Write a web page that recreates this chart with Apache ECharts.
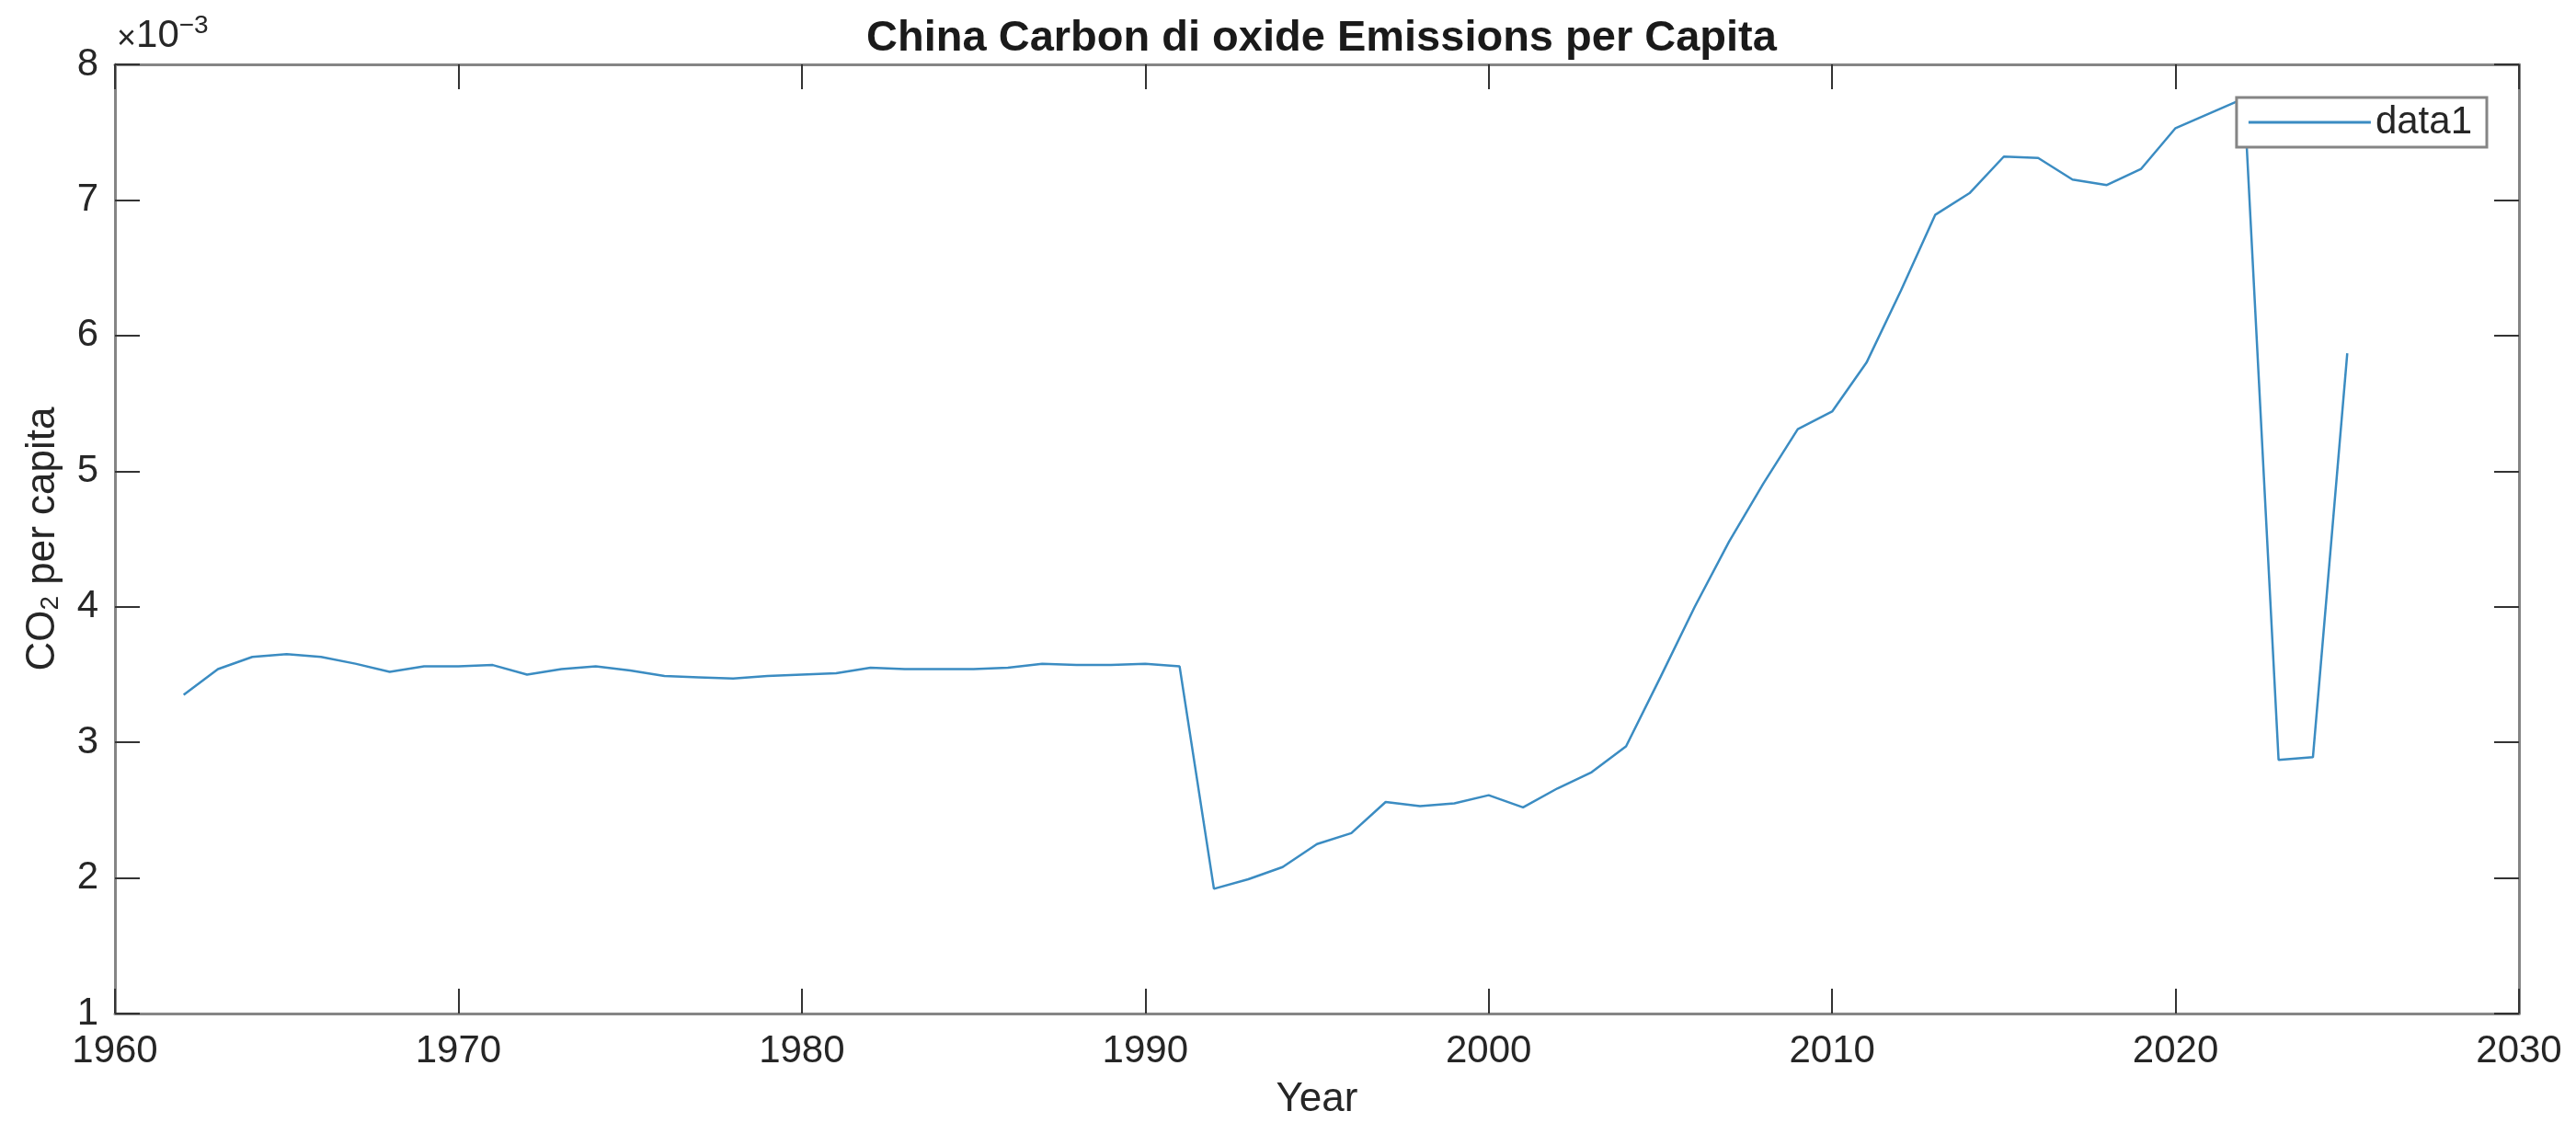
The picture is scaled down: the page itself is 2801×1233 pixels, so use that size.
<!DOCTYPE html>
<html>
<head>
<meta charset="utf-8">
<title>China Carbon di oxide Emissions per Capita</title>
<script src="https://cdn.jsdelivr.net/npm/echarts@6/dist/echarts.min.js"></script>
<style>
  html, body { margin: 0; padding: 0; background: #fff; }
  #chart { width: 2801px; height: 1233px; }
</style>
</head>
<body>
<div id="chart"></div>
<script>
// years on the x axis
const years = [
  1962, 1963, 1964, 1965, 1966, 1967, 1968, 1969, 1970, 1971,
  1972, 1973, 1974, 1975, 1976, 1977, 1978, 1979, 1980, 1981,
  1982, 1983, 1984, 1985, 1986, 1987, 1988, 1989, 1990, 1991,
  1992, 1993, 1994, 1995, 1996, 1997, 1998, 1999, 2000, 2001,
  2002, 2003, 2004, 2005, 2006, 2007, 2008, 2009, 2010, 2011,
  2012, 2013, 2014, 2015, 2016, 2017, 2018, 2019, 2020, 2021,
  2022, 2023, 2024, 2025
]

// CO2 per capita, in units of 1e-3 (axis shows x10^-3)
const co2PerCapita = [
  3.35, 3.54, 3.63, 3.65, 3.63, 3.58, 3.52, 3.56, 3.56, 3.57,
  3.50, 3.54, 3.56, 3.53, 3.49, 3.48, 3.47, 3.49, 3.50, 3.51,
  3.55, 3.54, 3.54, 3.54, 3.55, 3.58, 3.57, 3.57, 3.58, 3.56,
  1.92, 1.99, 2.08, 2.25, 2.33, 2.56, 2.53, 2.55, 2.61, 2.52,
  2.66, 2.78, 2.97, 3.48, 4.00, 4.48, 4.91, 5.31, 5.44, 5.80,
  6.33, 6.89, 7.05, 7.32, 7.31, 7.15, 7.11, 7.23, 7.53, 7.64,
  7.75, 2.87, 2.89, 5.87
]

const xTicks = { min: 1960, max: 2030, step: 10 }
const yTicks = { min: 1, max: 8, step: 1 }

const FONT = '"Liberation Sans", Arial, Helvetica, sans-serif'
const TEXT = '#262626'
const BOX = '#858585'
const TICK = '#333'
const LINE = '#3b8cc2'

const chart = echarts.init(document.getElementById('chart'))

// shared axis look (MATLAB style box with inward ticks)
const axisBase = (pos, showLabel) => ({
  type: 'value',
  position: pos,
  axisLine: { show: true, lineStyle: { color: BOX, width: 3 } },
  axisTick: { show: true, inside: true, length: 27, lineStyle: { color: TICK, width: 2 } },
  splitLine: { show: false },
  axisLabel: { show: showLabel, color: TEXT, fontSize: 42, fontFamily: FONT }
})

const option = {
  backgroundColor: '#fff',
  animation: false,
  title: {
    text: 'China Carbon di oxide Emissions per Capita',
    left: 1432,
    top: 14,
    textAlign: 'center',
    textStyle: { fontFamily: FONT, fontSize: 47, fontWeight: 'bold', color: '#1a1a1a' }
  },
  grid: { left: 125, right: 62, top: 70, bottom: 131, outerBoundsMode: 'none' },
  legend: {
    data: ['data1'],
    right: 97,
    top: 106,
    orient: 'vertical',
    icon: 'rect',
    backgroundColor: '#fff',
    borderColor: BOX,
    borderWidth: 3,
    borderRadius: 0,
    padding: [6, 16, 6, 13],
    itemWidth: 133,
    itemHeight: 3,
    textStyle: { fontFamily: FONT, fontSize: 42, color: TEXT }
  },
  xAxis: [
    Object.assign(axisBase('bottom', true), {
      min: xTicks.min, max: xTicks.max, interval: xTicks.step,
      name: 'Year',
      nameLocation: 'middle',
      nameGap: 72,
      nameTextStyle: { fontFamily: FONT, fontSize: 44, color: TEXT },
      axisLabel: { color: TEXT, fontSize: 42, fontFamily: FONT, margin: 20, formatter: v => String(v) }
    }),
    Object.assign(axisBase('top', false), {
      min: xTicks.min, max: xTicks.max, interval: xTicks.step
    })
  ],
  yAxis: [
    Object.assign(axisBase('left', true), {
      min: yTicks.min, max: yTicks.max, interval: yTicks.step,
      name: 'CO{sub|2} per capita',
      nameLocation: 'middle',
      nameGap: 56,
      nameTextStyle: {
        fontFamily: FONT, fontSize: 44, color: TEXT,
        rich: { sub: { fontFamily: FONT, fontSize: 28, color: TEXT, verticalAlign: 'bottom', padding: [14, 0, 0, 0] } }
      },
      axisLabel: { color: TEXT, fontSize: 42, fontFamily: FONT, margin: 18 }
    }),
    Object.assign(axisBase('right', false), {
      min: yTicks.min, max: yTicks.max, interval: yTicks.step
    })
  ],
  // exponent marker above the y axis
  graphic: [{
    type: 'text',
    left: 127,
    top: 14,
    style: {
      text: '{x|×}{b|10}{e|−3}',
      rich: {
        x: { fontFamily: FONT, fontSize: 36, fill: TEXT, padding: [8, 0, 0, 0] },
        b: { fontFamily: FONT, fontSize: 42, fill: TEXT },
        e: { fontFamily: FONT, fontSize: 28, fill: TEXT, padding: [0, 0, 22, 0] }
      }
    }
  }],
  series: [{
    name: 'data1',
    type: 'line',
    symbol: 'none',
    data: years.map((y, i) => [y, co2PerCapita[i]]),
    lineStyle: { color: LINE, width: 2.5 },
    itemStyle: { color: LINE }
  }]
}

chart.setOption(option)
</script>
</body>
</html>
